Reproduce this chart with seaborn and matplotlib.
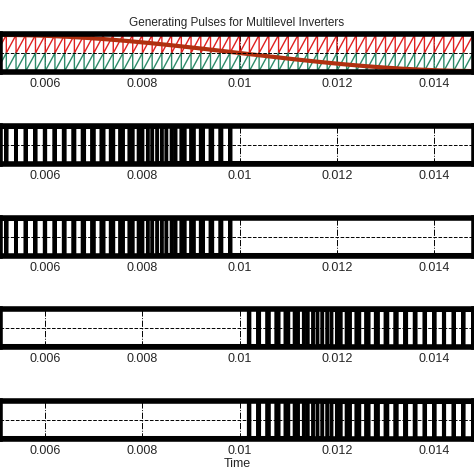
import numpy as np
import matplotlib
matplotlib.use("Agg")
import matplotlib.pyplot as plt
import seaborn as sns

sns.set_style("white")
plt.rcParams['font.family'] = ['Liberation Sans', 'DejaVu Sans']

carrier_freq = [5000.0]
ref_freq = [50.0]
x_range = [0.00507, 0.01482]
tick_vals = [0.006, 0.008, 0.010, 0.012, 0.014]
tick_labels = ["0.006", "0.008", "0.01", "0.012", "0.014"]

t = np.linspace(0.005, 0.0152, 40001)
fc, fr = carrier_freq[0], ref_freq[0]
saw = (t * fc) % 1.0
red = saw
green = saw - 1.0
ref = np.sin(2 * np.pi * fr * t)
p_hi = np.where(t < 0.01, (ref > red).astype(float), 0.0)
p_lo = np.where(t >= 0.01, (ref < green).astype(float), 0.0)

fig = plt.figure(figsize=(4.74, 4.74), dpi=100)
tops = [34, 126, 218, 309, 401]
h = 38
axes = []
for i, tp in enumerate(tops):
    ax = fig.add_axes([0.0, 1 - (tp + h) / 474, 1.0, h / 474])
    axes.append(ax)
    ax.set_xlim(*x_range)
    for s in ax.spines.values():
        s.set_linewidth(4); s.set_color("black")
    ax.set_xticks(tick_vals)
    ax.set_xticklabels(tick_labels, fontsize=9)
    ax.tick_params(axis='x', length=0, pad=4)
    ax.set_yticks([])
    for tv in tick_vals:
        ax.axvline(tv, color="black", lw=0.7, ls="-.", zorder=0)

ax = axes[0]
sns.lineplot(x=t, y=red, ax=ax, color="#e02020", lw=1.0, estimator=None)
sns.lineplot(x=t, y=green, ax=ax, color="#2e8b6a", lw=1.0, estimator=None)
sns.lineplot(x=t, y=ref, ax=ax, color="#b03010", lw=3, estimator=None)
ax.set_ylim(-1.05, 1.05)
ax.axhline(0, color="black", lw=0.7, ls="--")
ax.set_title("Generating Pulses for Multilevel Inverters", fontsize=8.5, pad=6)

for ax, p in zip(axes[1:], [p_hi, p_hi, p_lo, p_lo]):
    sns.lineplot(x=t, y=p, ax=ax, color="black", lw=2.8, estimator=None, drawstyle="steps-post")
    ax.set_ylim(-0.03, 1.03)
    ax.axhline(0.5, color="black", lw=0.7, ls="--", zorder=0)

axes[-1].set_xlabel("Time", fontsize=9, labelpad=1)
fig.savefig("out.png", dpi=100)
